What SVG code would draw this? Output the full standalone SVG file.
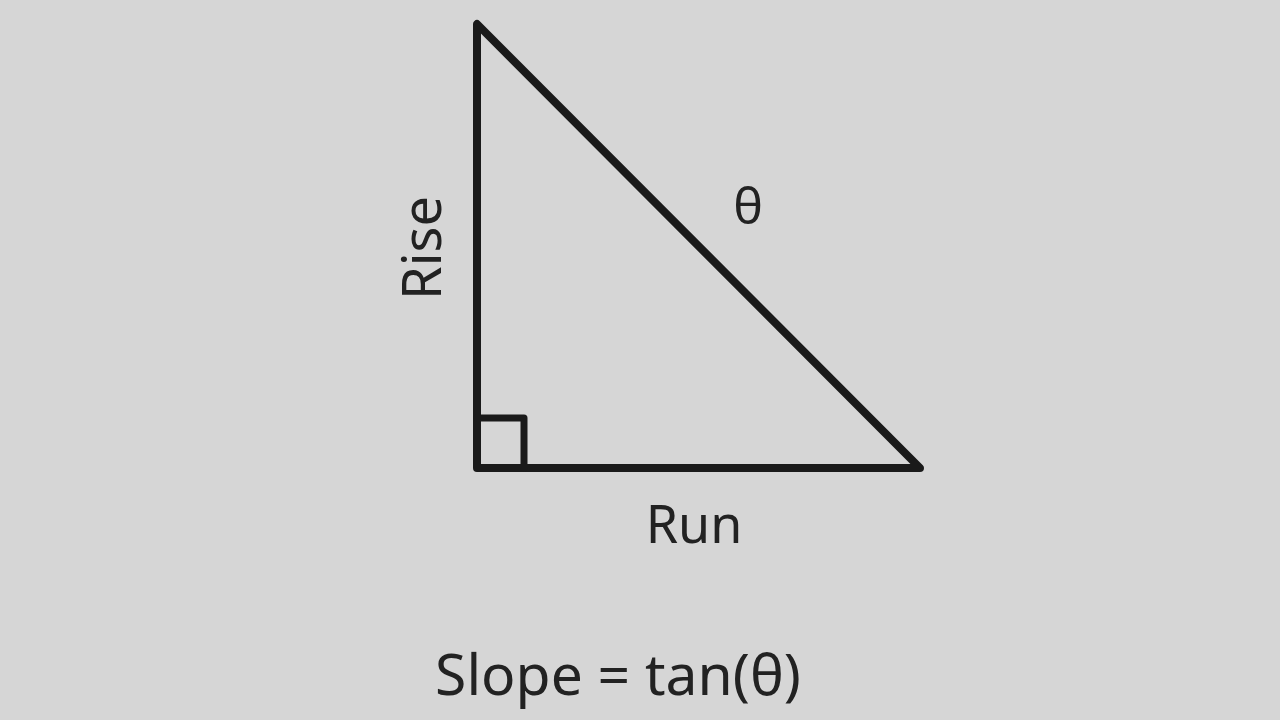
<svg xmlns="http://www.w3.org/2000/svg" width="1280" height="720" viewBox="0 0 1280 720">
<style>
.ln{fill:none;stroke:#1a1a1a;stroke-linejoin:round;stroke-linecap:round}
.t{font-family:"Noto Sans","Open Sans","DejaVu Sans",sans-serif;fill:#222;text-anchor:middle}
</style>
<rect width="1280" height="720" fill="#d6d6d6"/>
<g id="triangle">
<path class="ln" stroke-width="8" d="M477,24 L477,468 L920,468 Z"/>
<path class="ln" stroke-width="7" d="M477,418 L524,418 L524,468"/>
</g>
<g id="labels">
<text class="t" font-size="54" transform="translate(441,248) rotate(-90)">Rise</text>
<text class="t" font-size="52" x="694" y="543">Run</text>
<text class="t" font-size="50" x="748" y="224">θ</text>
<text class="t" font-size="57" x="618" y="695">Slope = tan(θ)</text>
</g>
</svg>
